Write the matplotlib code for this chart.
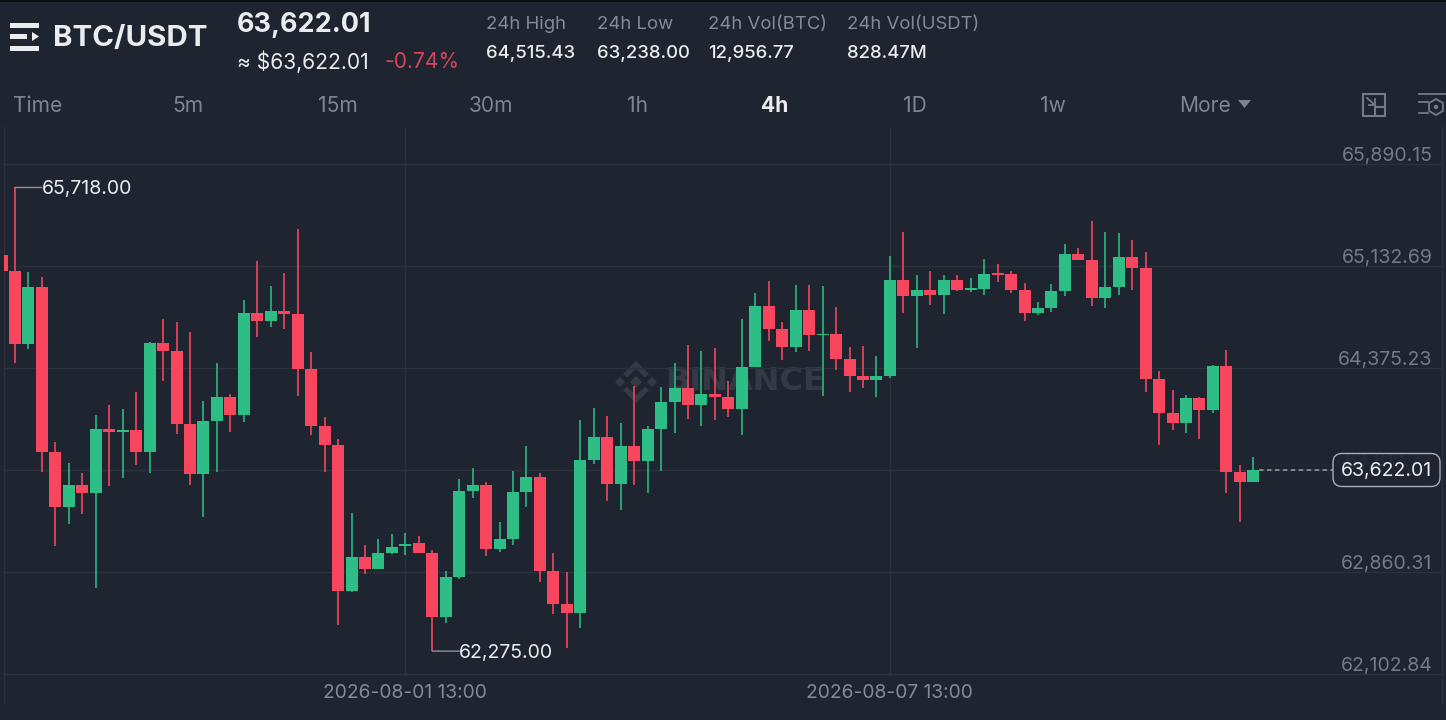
"""BTC/USDT 4h candlestick screen, dark theme."""

import matplotlib
matplotlib.use('Agg')
import matplotlib.pyplot as plt
from matplotlib.patches import FancyBboxPatch, Polygon, Rectangle, Circle, RegularPolygon
import numpy as np

plt.rcParams['font.family'] = ['Inter', 'DejaVu Sans']

# candles, oldest first (the first one is cut off by the left edge)
opens = [65219, 65100, 64553, 64982, 63756, 63343, 63506, 63452, 63927, 63902,
         63915, 63754, 64561, 64506, 63964, 63590, 63984, 64160, 64026, 64786,
         64729, 64798, 64779, 64370, 63949, 63806, 62719, 62972, 62888, 63004,
         63058, 63076, 63006, 62531, 62823, 63462, 63506, 63031, 63108, 63454,
         63568, 62870, 62623, 62561, 63695, 63868, 63519, 63798, 63685, 63925,
         64123, 64232, 64105, 64182, 64162, 64073, 64385, 64838, 64665, 64531,
         64808, 64620, 64630, 64445, 64321, 64289, 64318, 65029, 64912, 64957,
         64922, 65031, 64957, 64967, 65081, 65073, 64959, 64789, 64823, 64947,
         65224, 65177, 64898, 64979, 65199, 65123, 64298, 64046, 63969, 64152,
         64066, 64390, 63608, 63534]
closes = [65100, 64553, 64982, 63756, 63343, 63506, 63452, 63927, 63902, 63917,
          63754, 64561, 64506, 63964, 63590, 63984, 64160, 64026, 64786, 64729,
          64798, 64781, 64370, 63949, 63806, 62719, 62972, 62888, 63004, 63048,
          63073, 63006, 62531, 62823, 63462, 63506, 63031, 63108, 63454, 63568,
          62870, 62623, 62561, 63695, 63868, 63519, 63798, 63685, 63925, 64123,
          64232, 64105, 64182, 64165, 64073, 64385, 64838, 64665, 64531, 64808,
          64620, 64633, 64445, 64321, 64289, 64318, 65029, 64912, 64957, 64922,
          65031, 64957, 64969, 65078, 65066, 64959, 64789, 64823, 64947, 65224,
          65177, 64898, 64979, 65199, 65123, 64298, 64046, 63969, 64152, 64066,
          64390, 63608, 63534, 63622.01]
highs = [65219, 65718, 65088, 65051, 63826, 63670, 63595, 64026, 64100, 64073,
         64199, 64573, 64741, 64717, 64645, 64130, 64412, 64182, 64883, 65175,
         64987, 65086, 65407, 64496, 64011, 63848, 63298, 63063, 63108, 63145,
         63150, 63128, 63026, 62868, 63551, 63633, 63529, 63232, 63610, 63796,
         63596, 63001, 62863, 63992, 64078, 64021, 63972, 64244, 63947, 64234,
         64412, 64546, 64504, 64524, 64279, 64742, 64932, 65024, 64722, 64994,
         64997, 64987, 64828, 64534, 64541, 64464, 65209, 65385, 65068, 65100,
         65071, 65068, 65046, 65190, 65148, 65098, 65009, 64865, 64999, 65298,
         65266, 65472, 65385, 65378, 65326, 65237, 64353, 64212, 64175, 64160,
         64397, 64514, 63657, 63714]
lows = [65100, 64417, 64516, 63608, 63058, 63219, 63293, 62744, 63501, 63563,
        63657, 63600, 64281, 63885, 63511, 63269, 63603, 63905, 63979, 64605,
        64685, 64667, 64172, 63877, 63608, 62467, 62712, 62848, 62888, 62994,
        62987, 63006, 62275, 62487, 62808, 63415, 62984, 63011, 63066, 63343,
        62789, 62551, 62301, 62444, 63662, 63390, 63323, 63506, 63452, 63615,
        63892, 64001, 63950, 63994, 64016, 63880, 64385, 64578, 64440, 64494,
        64501, 64172, 64365, 64199, 64232, 64165, 64306, 64789, 64524, 64843,
        64781, 64949, 64944, 64922, 65014, 64935, 64729, 64774, 64791, 64915,
        65177, 64838, 64823, 64920, 64957, 64199, 63806, 63917, 63895, 63850,
        64046, 63449, 63237, 63534]

price_ticks = [65890.15, 65132.69, 64375.23, 63617.77, 62860.31, 62102.84]
time_ticks = [30, 66]
time_labels = ['2026-08-01 13:00', '2026-08-07 13:00']
max_index, min_index = 1, 32
last_price = 63622.01

tabs = ['Time', '5m', '15m', '30m', '1h', '4h', '1D', '1w', 'More']
tab_x = [38, 188, 338, 491, 638, 775, 915, 1053, 1205]
stat_names = ['24h High', '24h Low', '24h Vol(BTC)', '24h Vol(USDT)']
stat_values = ['64,515.43', '63,238.00', '12,956.77', '828.47M']
stat_x = [486, 597, 708.5, 847]

BG = '#1f2530'
GRID = '#2c323d'
GREEN = '#2ebd85'
RED = '#f8465e'
MUTED = '#757b85'
TAB = '#7f858f'
WHITE = '#eaecef'


def fpx(px):
    # font size given in pixels at dpi 100
    return px * 0.72


W, H = 1446, 720
fig = plt.figure(figsize=(W / 100, H / 100), dpi=100, facecolor=BG)

# Page layer in screen pixels
page = fig.add_axes([0, 0, 1, 1])
page.set_xlim(0, W)
page.set_ylim(H, 0)
page.axis('off')
page.add_patch(Rectangle((0, 0), W, 2, facecolor='#0b0e11', edgecolor='none'))

# --- Header ---
for y0, y1, x1 in [(23, 27.5, 39), (34, 39, 27), (46, 51, 39)]:
    page.add_patch(Rectangle((10, y0), x1 - 10, y1 - y0, facecolor=WHITE, edgecolor='none'))
page.add_patch(Polygon([(32, 32), (39, 36.5), (32, 41)], facecolor=WHITE, edgecolor='none'))
page.text(53, 38.5, 'BTC/USDT', color=WHITE, fontsize=fpx(29.5), fontweight='bold', va='center')
page.text(237, 25, '63,622.01', color=WHITE, fontsize=fpx(27), fontweight='bold', va='center')
page.text(237, 62, '≈ $63,622.01', color=WHITE, fontsize=fpx(21), va='center')
page.text(385, 62, '-0.74%', color='#d9435a', fontsize=fpx(21), va='center')
for x, name, value in zip(stat_x, stat_names, stat_values):
    page.text(x, 24.5, name, color='#858b95', fontsize=fpx(18.5), va='center')
    page.text(x, 53.5, value, color=WHITE, fontsize=fpx(18.5), fontweight='medium', va='center')

# --- Interval tabs ---
for x, tab in zip(tab_x, tabs):
    active = tab == '4h'
    page.text(x, 106.5, tab, color=WHITE if active else TAB, fontsize=fpx(21),
              fontweight='bold' if active else 'normal', ha='center', va='center')
page.add_patch(Polygon([(1238, 100), (1251, 100), (1244.5, 108)], facecolor=TAB, edgecolor='none'))

# --- Toolbar icons ---
page.add_patch(Rectangle((1362.5, 93.5), 22.5, 22, fill=False, edgecolor=MUTED, linewidth=1.5))
page.add_patch(Rectangle((1375, 107), 10, 9, facecolor=BG, edgecolor=MUTED, linewidth=1.5))
page.plot([1367, 1375], [98, 105], color=MUTED, lw=1.3)
page.plot([1369, 1375, 1375], [105, 105, 99], color=MUTED, lw=1.3)
page.plot([1419, 1445], [94, 94], color=MUTED, lw=1.3)
page.plot([1419, 1428], [102, 102], color=MUTED, lw=1.3)
page.plot([1419, 1428], [113, 113], color=MUTED, lw=1.3)
page.add_patch(RegularPolygon((1436, 107), 6, radius=8, fill=False, edgecolor=MUTED, linewidth=1.3))
page.add_patch(Circle((1436, 107), 2.2, facecolor=MUTED, edgecolor='none'))

# --- Watermark ---
WM = '#343a45'
logo_x, logo_y = 636, 382
for dx, dy, r in [(0, 0, 6), (-16, 0, 5), (16, 0, 5)]:
    page.add_patch(Polygon([(logo_x + dx - r, logo_y + dy), (logo_x + dx, logo_y + dy - r),
                            (logo_x + dx + r, logo_y + dy), (logo_x + dx, logo_y + dy + r)],
                           facecolor=WM, edgecolor='none'))
for sign in (-1, 1):
    page.add_patch(Polygon([(logo_x - 13, logo_y + sign * 8), (logo_x, logo_y + sign * 21),
                            (logo_x + 13, logo_y + sign * 8), (logo_x + 9, logo_y + sign * 4.5),
                            (logo_x, logo_y + sign * 13), (logo_x - 9, logo_y + sign * 4.5)],
                           facecolor=WM, edgecolor='none'))
page.text(665, 382, 'BINANCE', color=WM, fontsize=fpx(32), fontweight='bold',
          family='DejaVu Sans', va='center')

# --- Chart axes: x in candle index, y in price ---
LEFT, RIGHT, TOP, BOTTOM = 3.5, 1441.5, 127, 702.5
SPACING = 13.46
USD_PER_PX = (price_ticks[0] - price_ticks[5]) / (674.3 - 164.3)

ax = fig.add_axes([LEFT / W, 1 - BOTTOM / H, (RIGHT - LEFT) / W, (BOTTOM - TOP) / H])
ax.patch.set_visible(False)
ax.set_xlim((LEFT - 1.54) / SPACING, (RIGHT - 1.54) / SPACING)
ax.set_ylim(price_ticks[5] - (BOTTOM - 674.3) * USD_PER_PX,
            price_ticks[0] + (164.3 - TOP) * USD_PER_PX)
for name in ('top', 'bottom'):
    ax.spines[name].set_visible(False)
for name in ('left', 'right'):
    ax.spines[name].set_color(GRID)
    ax.spines[name].set_linewidth(1)
ax.set_xticks([])
ax.set_yticks([])

ax.hlines(price_ticks, *ax.get_xlim(), color=GRID, lw=1, zorder=1)
ax.vlines(time_ticks, price_ticks[5], ax.get_ylim()[1], color=GRID, lw=1, zorder=1)

o = np.array(opens, dtype=float)
c = np.array(closes, dtype=float)
h = np.array(highs, dtype=float)
l = np.array(lows, dtype=float)
idx = np.arange(len(o))
colors = np.where(c >= o, GREEN, RED)

ax.vlines(idx, l, h, colors=colors, lw=1.15, zorder=3)
ax.bar(idx, np.abs(c - o), bottom=np.minimum(o, c), width=12 / SPACING,
       color=colors, linewidth=0, zorder=4)

# --- Price labels on the right edge ---
trans = ax.get_yaxis_transform()
for tick in price_ticks:
    ax.annotate(f'{tick:,.2f}', xy=(1, tick), xycoords=trans, xytext=(-6.5, 5.9),
                textcoords='offset points', color=MUTED, fontsize=fpx(19.5),
                ha='right', va='center', zorder=2)
for x, label in zip(time_ticks, time_labels):
    ax.text(x, price_ticks[5] - 19 * USD_PER_PX, label, color='#858a92',
            fontsize=fpx(19.2), ha='center', va='center', zorder=2)

# --- High / low callouts ---
callout = dict(arrowstyle='-', color='#8d9199', lw=1, shrinkA=0, shrinkB=0)
for i, value in [(max_index, highs[max_index]), (min_index, lows[min_index])]:
    ax.annotate('', xy=(i, value), xytext=(27 * 0.72, 0), textcoords='offset points',
                arrowprops=callout, zorder=5)
    ax.annotate(f'{value:,.2f}', xy=(i, value), xytext=(27 * 0.72, -1),
                textcoords='offset points', color=WHITE, fontsize=fpx(19.5),
                va='center', zorder=6)

# --- Last price marker ---
ax.hlines(last_price, idx[-1] + 0.45, (1333 - 1.54) / SPACING, color='#9a9ea6',
          lw=1.1, linestyles=(0, (3, 2.2)), zorder=3)
box = FancyBboxPatch((1333, 453.5), 107, 33, boxstyle='round,pad=0,rounding_size=9',
                     transform=page.transData, facecolor=BG + 'e6', edgecolor='#a9adb4',
                     linewidth=1, clip_on=False, zorder=7)
ax.add_patch(box)
ax.annotate(f'{last_price:,.2f}', xy=(1, last_price), xycoords=trans, xytext=(-6.5, -1.2),
            textcoords='offset points', color=WHITE, fontsize=fpx(19.5),
            ha='right', va='center', zorder=8)

fig.savefig('out.png', dpi=100, facecolor=BG)
plt.close(fig)
